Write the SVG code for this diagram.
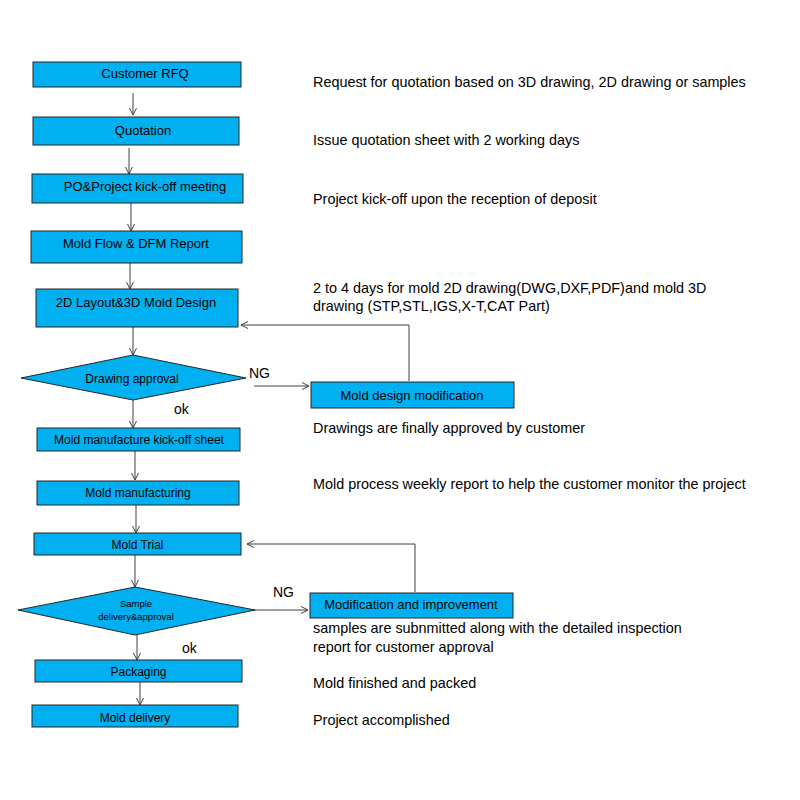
<svg xmlns="http://www.w3.org/2000/svg" width="800" height="800" viewBox="0 0 800 800">
<style>
.box{fill:#00B0F0;stroke:#262626;stroke-width:1}
.lbl{font-family:"Liberation Sans",Arial,sans-serif;fill:#000;text-anchor:middle}
.l13{font-size:13px}
.l12{font-size:12px}
.l9{font-size:9.5px}
.note{font-family:"Liberation Sans",Arial,sans-serif;font-size:14.4px;fill:#000}
.tag{font-family:"Liberation Sans",Arial,sans-serif;font-size:14px;fill:#000}
.con{fill:none;stroke:#404040;stroke-width:1;marker-end:url(#arr)}
</style>
<defs>
<marker id="arr" viewBox="0 0 8 8" refX="7" refY="3.5" markerWidth="8" markerHeight="8" markerUnits="userSpaceOnUse" orient="auto" overflow="visible">
<path d="M0,0 L7,3.5 L0,7" fill="none" stroke="#404040" stroke-width="1"/>
</marker>
</defs>
<rect width="800" height="800" fill="#fff"/>
<g id="connectors">
<path class="con" d="M133,93 V115"/>
<path class="con" d="M129,148 V174"/>
<path class="con" d="M131,203 V231"/>
<path class="con" d="M130,263 V289"/>
<path class="con" d="M133,327 V355"/>
<path class="con" d="M133,400 V428"/>
<path class="con" d="M135,451 V480"/>
<path class="con" d="M136,505 V533"/>
<path class="con" d="M135,555 V587"/>
<path class="con" d="M137,635 V660"/>
<path class="con" d="M140,682 V705"/>
<path class="con" d="M254,386 H309"/>
<path class="con" d="M409,381 V325 H241"/>
<path class="con" d="M253,610 H308"/>
<path class="con" d="M415,592 V544 H247"/>
</g>
<g id="n-rfq"><rect class="box" x="33" y="62" width="208" height="25"/><text class="lbl l13" x="145" y="78">Customer RFQ</text></g>
<g id="n-quotation"><rect class="box" x="33" y="117" width="206" height="28"/><text class="lbl l13" x="143" y="135">Quotation</text></g>
<g id="n-po"><rect class="box" x="32" y="174" width="211" height="29"/><text class="lbl l13" x="145" y="191">PO&amp;Project kick-off meeting</text></g>
<g id="n-dfm"><rect class="box" x="31" y="231" width="211" height="32"/><text class="lbl l13" x="136" y="248">Mold Flow &amp; DFM Report</text></g>
<g id="n-design"><rect class="box" x="36" y="289" width="202" height="38"/><text class="lbl l13" x="136" y="307">2D Layout&amp;3D Mold Design</text></g>
<g id="n-drawing-approval"><polygon class="box" points="133,355 246,378 133,400 21,378"/><text class="lbl l12" x="132" y="383">Drawing approval</text></g>
<g id="n-design-mod"><rect class="box" x="311" y="382" width="203" height="26"/><text class="lbl l13" x="412" y="400">Mold design modification</text></g>
<g id="n-kickoff-sheet"><rect class="box" x="37" y="428" width="203" height="23"/><text class="lbl l12" x="139" y="444">Mold manufacture kick-off sheet</text></g>
<g id="n-manufacturing"><rect class="box" x="37" y="481" width="202" height="24"/><text class="lbl l12" x="138" y="497">Mold manufacturing</text></g>
<g id="n-trial"><rect class="box" x="34" y="533" width="207" height="22"/><text class="lbl l12" x="137.5" y="549">Mold Trial</text></g>
<g id="n-sample-approval"><polygon class="box" points="135,587 255,610 135,635 18,610"/><text class="lbl l9" x="136" y="607">Sample</text><text class="lbl l9" x="136" y="620">delivery&amp;approval</text></g>
<g id="n-improvement"><rect class="box" x="310" y="593" width="203" height="25"/><text class="lbl l13" x="411" y="609">Modification and improvement</text></g>
<g id="n-packaging"><rect class="box" x="35" y="660" width="207" height="22"/><text class="lbl l12" x="138.5" y="676">Packaging</text></g>
<g id="n-delivery"><rect class="box" x="32" y="705" width="206" height="22"/><text class="lbl l12" x="135" y="722">Mold delivery</text></g>
<g id="labels">
<text class="tag" x="249" y="378">NG</text>
<text class="tag" x="174" y="414">ok</text>
<text class="tag" x="273" y="597">NG</text>
<text class="tag" x="182" y="653">ok</text>
</g>
<g id="notes">
<text class="note" x="313" y="87">Request for quotation based on 3D drawing, 2D drawing or samples</text>
<text class="note" x="313" y="145">Issue quotation sheet with 2 working days</text>
<text class="note" x="313" y="204">Project kick-off upon the reception of deposit</text>
<text class="note" x="313" y="293">2 to 4 days for mold 2D drawing(DWG,DXF,PDF)and mold 3D</text>
<text class="note" x="313" y="311">drawing (STP,STL,IGS,X-T,CAT Part)</text>
<text class="note" x="313" y="433">Drawings are finally approved by customer</text>
<text class="note" x="313" y="489">Mold process weekly report to help the customer monitor the project</text>
<text class="note" x="313" y="633">samples are subnmitted along with the detailed inspection</text>
<text class="note" x="313" y="652">report for customer approval</text>
<text class="note" x="313" y="688">Mold finished and packed</text>
<text class="note" x="313" y="725">Project accomplished</text>
</g>
</svg>
